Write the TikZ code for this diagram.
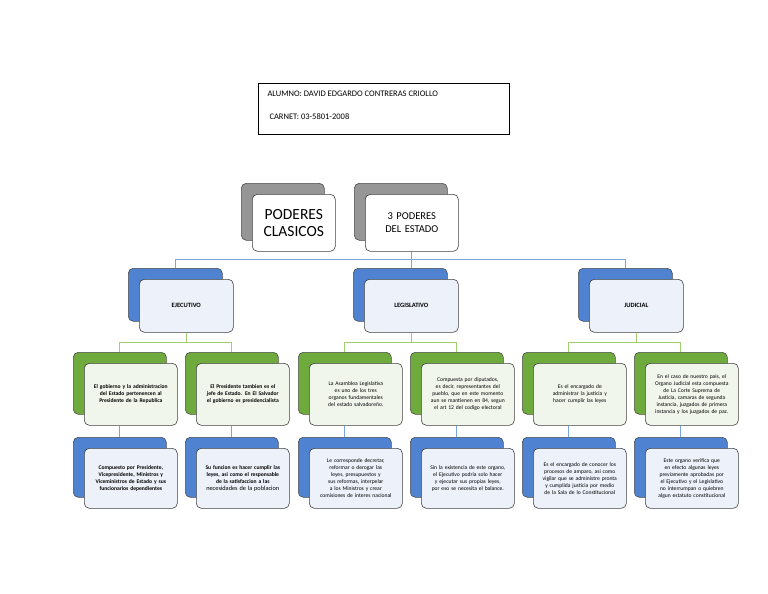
\documentclass[tikz,border=0pt]{standalone}
\usepackage{fontspec}
\setmainfont{Carlito}
\definecolor{bk}{RGB}{150,150,150}
\definecolor{bb}{RGB}{80,130,210}
\definecolor{bg}{RGB}{110,170,60}
\definecolor{fb}{RGB}{236,241,250}
\definecolor{fg}{RGB}{240,246,236}
\definecolor{lb}{RGB}{120,165,225}
\definecolor{lg}{RGB}{160,205,110}
\tikzset{
 backbox/.style={draw=black!70,rounded corners=5pt,line width=0.6pt,inner sep=0pt,anchor=north west},
 frontbox/.style={draw=black!75,rounded corners=5pt,line width=0.6pt,inner sep=2pt,anchor=north west,align=center},
 conn/.style={line width=0.8pt},
}
\newcommand\card[9]{%
 \node[backbox,fill=#2,minimum width=#5pt,minimum height=#6pt] (#1b) at (#3,#4) {};
 \pgfmathsetmacro\tw{#5-18}%
 \node[frontbox,fill=#7,minimum width=#5pt,minimum height=#6pt,text width=\tw pt,font=#8] (#1) at (#3+11,#4+11) {#9};
}
\begin{document}
\begin{tikzpicture}[x=1pt,y=-1pt]
\hyphenpenalty=10000
\useasboundingbox (0,0) rectangle (768,594);
\node[draw,line width=0.6pt,minimum width=251pt,minimum height=51pt,anchor=north west] (hdr) at (258,83) {};
\node[anchor=west,font=\fontsize{8.5}{10}\selectfont] (al) at (264,94) {ALUMNO: DAVID EDGARDO CONTRERAS CRIOLLO};
\node[anchor=west,font=\fontsize{8.5}{10}\selectfont] (ca) at (266,117) {CARNET: 03-5801-2008};
% top
\card{pc}{bk}{241}{183}{83}{57}{white}{\fontsize{15.5}{17}\selectfont}{PODERES\\CLASICOS}
\card{tp}{bk}{354}{183}{93}{57}{white}{\fontsize{10.5}{12.5}\selectfont}{3 PODERES\\DEL ESTADO}
% level 1
\card{ej}{bb}{128}{268}{94}{53}{fb}{\fontsize{6.5}{7}\selectfont\bfseries}{EJECUTIVO}
\card{le}{bb}{353}{268}{94}{53}{fb}{\fontsize{6.5}{7}\selectfont\bfseries}{LEGISLATIVO}
\card{ju}{bb}{578}{268}{94}{53}{fb}{\fontsize{6.5}{7}\selectfont\bfseries}{JUDICIAL}
% level 2
\def\sm{\fontsize{5.6}{7}\selectfont}
\card{g1}{bg}{73}{352}{93}{62}{fg}{\sm\bfseries}{El gobierno y la administracion del Estado pertenencen al Presidente de la Republica}
\card{g2}{bg}{185}{352}{93}{62}{fg}{\sm\bfseries}{El Presidente tambien es el jefe de Estado. En El Salvador el gobierno es presidencialista}
\card{g3}{bg}{298}{352}{93}{62}{fg}{\sm}{La Asamblea Legislativa es uno de los tres organos fundamentales del estado salvadoreño.}
\card{g4}{bg}{410}{352}{93}{62}{fg}{\sm}{Compuesta por diputados, es decir, representantes del pueblo, que en este momento aun se mantienen en 84, segun el art 12 del codigo electoral}
\card{g5}{bg}{522}{352}{93}{62}{fg}{\sm}{Es el encargado de administrar la justicia y hacer cumplir las leyes}
\card{g6}{bg}{634}{352}{93}{62}{fg}{\sm}{En el caso de nuestro pais, el Organo Judicial esta compuesta de La Corte Suprema de Justicia, camaras de segunda instancia, juzgados de primera instancia y los juzgados de paz.}
% level 3
\card{b1}{bb}{73}{437}{93}{60}{fb}{\sm\bfseries}{Compuesto por Presidente, Vicepresidente, Ministros y Viceministros de Estado y sus funcionarios dependientes}
\card{b2}{bb}{185}{437}{93}{60}{fb}{\sm\bfseries}{Su funcion es hacer cumplir las leyes, asi como el responsable de la satisfaccion a las {\fontsize{6.3}{7}\selectfont\mdseries necesidades de la poblacion}}
\card{b3}{bb}{298}{437}{93}{60}{fb}{\sm}{Le corresponde decretar, reformar o derogar las leyes, presupuestos y sus reformas, interpelar a los Ministros y crear comisiones de interes nacional}
\card{b4}{bb}{410}{437}{93}{60}{fb}{\sm}{Sin la existencia de este organo, el Ejecutivo podria solo hacer y ejecutar sus propias leyes, por eso se necesita el balance.}
\card{b5}{bb}{522}{437}{93}{60}{fb}{\sm}{Es el encargado de conocer los procesos de amparo, asi como vigilar que se administre pronta y cumplida justicia por medio de la Sala de lo Constitucional}
\card{b6}{bb}{634}{437}{93}{60}{fb}{\sm}{Este organo verifica que en efecto algunas leyes previamente aprobadas por el Ejecutivo y el Legislativo no interrumpan o quiebren algun estatuto constitucional}
% connectors
\draw[conn,lb] (tp.south) -- ++(0,8) -| (ejb.north);
\draw[conn,lb] (tp.south) ++(0,8) -| (jub.north);
\draw[conn,lb] (tp.south) ++(0,8) -- (tp.south |- leb.north);
\foreach \p/\a/\b in {ej/g1/g2,le/g3/g4,ju/g5/g6}{
 \draw[conn,lg] (\p.south) -- ++(0,10) -| (\a b.north);
 \draw[conn,lg] (\p.south) ++(0,10) -| (\b b.north);
}
\foreach \a/\b in {g1/b1,g2/b2,g3/b3,g4/b4,g5/b5,g6/b6}{
 \draw[conn,lb] (\a b.south |- \a.south) -- (\b b.north);
}
\end{tikzpicture}
\end{document}
